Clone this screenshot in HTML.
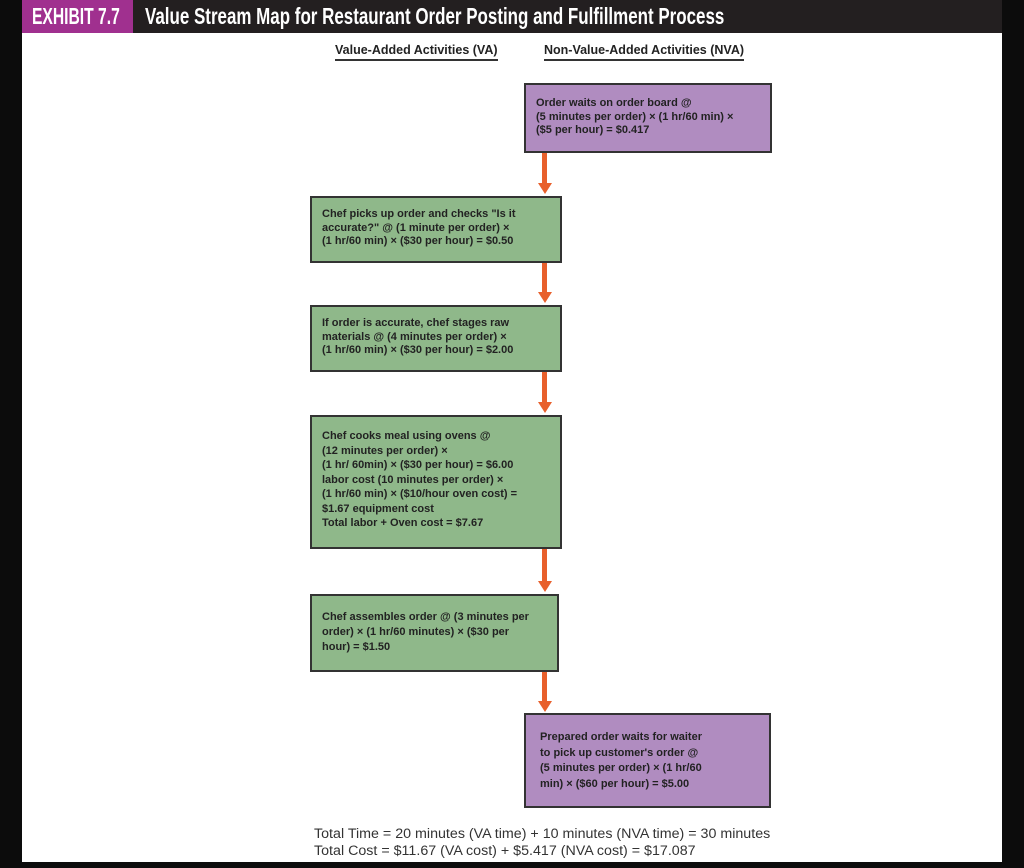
<!DOCTYPE html>
<html><head><meta charset="utf-8"><style>
body{margin:0;width:1024px;height:868px;background:#0c0c0c;position:relative;overflow:hidden;font-family:"Liberation Sans",sans-serif;}
.page{position:absolute;left:22px;top:33px;width:980px;height:829px;background:#fff;}
.hdr{position:absolute;left:22px;top:0;width:980px;height:33px;background:#231f20;}
.ex{position:absolute;left:22px;top:0;width:111px;height:33px;background:#a0308f;}
.sq{position:absolute;top:0;height:33px;line-height:33px;color:#fff;font-size:23px;font-weight:bold;white-space:nowrap;transform-origin:0 50%;transform:scaleX(0.737);}
.col{position:absolute;top:43px;font-size:12.5px;font-weight:bold;color:#222;border-bottom:2px solid #333;padding-bottom:2px;white-space:nowrap;}
.box{position:absolute;box-sizing:border-box;border:2px solid #333;font-size:11px;font-weight:bold;color:#222;line-height:13.5px;padding:8px 10px;}
.g{background:#8fb88a;}.p{background:#b08cc0;}
.ar{position:absolute;left:542px;width:5px;background:#e8602c;}
.ah{position:absolute;left:538px;width:0;height:0;border-left:7px solid transparent;border-right:7px solid transparent;border-top:11px solid #e8602c;}
.tot{position:absolute;left:314px;font-size:13.5px;color:#333;white-space:nowrap;transform-origin:0 50%;transform:scaleX(1.056);}
</style></head><body>
<div class="page"></div>
<div class="hdr"></div>
<div class="ex"></div>
<div class="sq" style="left:32px;transform:scaleX(0.68)">EXHIBIT 7.7</div>
<div class="sq" style="left:145px">Value Stream Map for Restaurant Order Posting and Fulfillment Process</div>
<div class="col" style="left:335px">Value-Added Activities (VA)</div>
<div class="col" style="left:544px">Non-Value-Added Activities (NVA)</div>

<div class="box p" style="left:524px;top:83px;width:248px;height:70px;padding-top:12px">Order waits on order board @<br>(5 minutes per order) × (1 hr/60 min) ×<br>($5 per hour) = $0.417</div>
<div class="ar" style="top:153px;height:30px"></div><div class="ah" style="top:183px"></div>

<div class="box g" style="left:310px;top:196px;width:252px;height:67px;padding-top:10px">Chef picks up order and checks "Is it<br>accurate?" @ (1 minute per order) ×<br>(1 hr/60 min) × ($30 per hour) = $0.50</div>
<div class="ar" style="top:263px;height:30px"></div><div class="ah" style="top:292px"></div>

<div class="box g" style="left:310px;top:305px;width:252px;height:67px;padding-top:10px">If order is accurate, chef stages raw<br>materials @ (4 minutes per order) ×<br>(1 hr/60 min) × ($30 per hour) = $2.00</div>
<div class="ar" style="top:372px;height:31px"></div><div class="ah" style="top:402px"></div>

<div class="box g" style="left:310px;top:415px;width:252px;height:134px;padding-top:12px;line-height:14.5px">Chef cooks meal using ovens @<br>(12 minutes per order) ×<br>(1 hr/ 60min) × ($30 per hour) = $6.00<br>labor cost (10 minutes per order) ×<br>(1 hr/60 min) × ($10/hour oven cost) =<br>$1.67 equipment cost<br>Total labor + Oven cost = $7.67</div>
<div class="ar" style="top:549px;height:33px"></div><div class="ah" style="top:581px"></div>

<div class="box g" style="left:310px;top:594px;width:249px;height:78px;padding-top:14px;line-height:15px">Chef assembles order @ (3 minutes per<br>order) × (1 hr/60 minutes) × ($30 per<br>hour) = $1.50</div>
<div class="ar" style="top:672px;height:30px"></div><div class="ah" style="top:701px"></div>

<div class="box p" style="left:524px;top:713px;width:247px;height:95px;padding:15px 14px;line-height:15.5px">Prepared order waits for waiter<br>to pick up customer's order @<br>(5 minutes per order) × (1 hr/60<br>min) × ($60 per hour) = $5.00</div>

<div class="tot" style="top:826px">Total Time = 20 minutes (VA time) + 10 minutes (NVA time) = 30 minutes</div>
<div class="tot" style="top:843px">Total Cost = $11.67 (VA cost) + $5.417 (NVA cost) = $17.087</div>
</body></html>
